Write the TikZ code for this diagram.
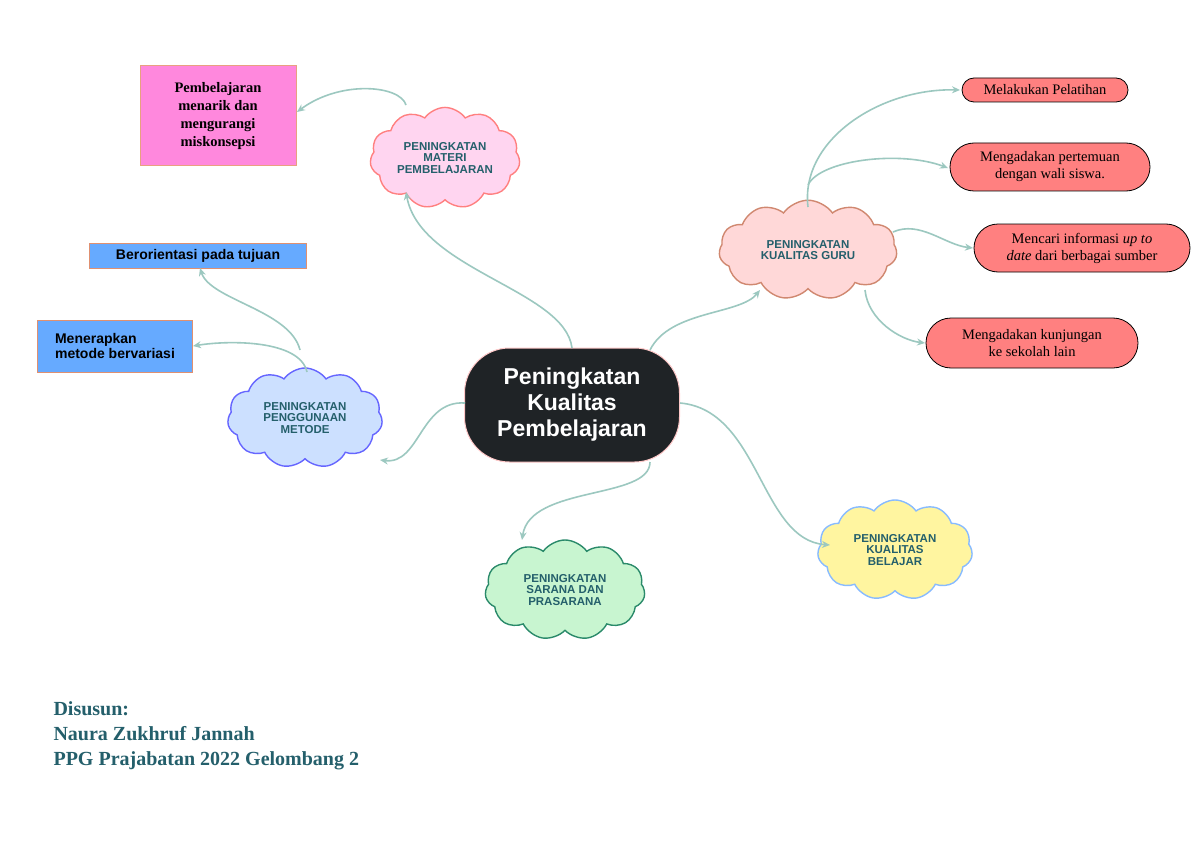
\documentclass[tikz,border=0pt]{standalone}
\usepackage{fontspec}
\setmainfont{Liberation Serif}
\newfontfamily\hv{Liberation Sans}
\usetikzlibrary{shapes.symbols,shapes.geometric,shapes.misc,arrows.meta}
\definecolor{teal}{HTML}{245F6B}
\definecolor{conn}{HTML}{9CC8C0}
\tikzset{
 cl/.style={cloud,cloud puffs=11,cloud puff arc=110,aspect=1.6,line width=1.4pt,inner sep=0pt,font=\hv\bfseries\fontsize{11.5}{11.5}\selectfont,text=teal,align=center},
 oval/.style={rounded rectangle,draw=black,fill=red!50!white,line width=0.8pt,font=\fontsize{14.5}{17}\selectfont,align=center,inner sep=2pt},
 bbox/.style={draw={rgb,255:red,224;green,144;blue,112},fill={rgb,255:red,102;green,170;blue,255},line width=1pt,font=\hv\bfseries\fontsize{14}{15}\selectfont,align=left},
 cn/.style={draw=conn,line width=1.6pt,-{Stealth[length=8pt,width=7pt]}}
}
\begin{document}
\begin{tikzpicture}[x=1pt,y=-1pt]
\useasboundingbox (0,0) rectangle (1200,848);
\fill[white] (0,0) rectangle (1200,848);
\node[draw={rgb,255:red,255;green,200;blue,200},fill={rgb,255:red,31;green,35;blue,38},rounded corners=45pt,minimum width=215pt,minimum height=114pt,line width=1pt,text=white,font=\hv\bfseries\fontsize{23}{26}\selectfont,align=center] (c) at (572,405) {Peningkatan\\Kualitas\\Pembelajaran};
\node[cl,fill={rgb,255:red,255;green,213;blue,240},draw={rgb,255:red,255;green,128;blue,128},minimum width=150pt,minimum height=100pt] (m) at (445,158) {PENINGKATAN\\MATERI\\PEMBELAJARAN};
\node[draw={rgb,255:red,232;green,160;blue,128},fill={rgb,255:red,255;green,136;blue,221},line width=1pt,minimum width=156pt,minimum height=100pt,font=\bfseries\fontsize{14.5}{18}\selectfont,align=center] (mp) at (218,116) {Pembelajaran\\menarik dan\\mengurangi\\miskonsepsi};
\node[cl,fill={rgb,255:red,255;green,216;blue,216},draw={rgb,255:red,208;green,136;blue,112},minimum width=178pt,minimum height=92pt] (g) at (808,250) {PENINGKATAN\\KUALITAS GURU};
\node[oval,minimum width=170pt,minimum height=24pt] (g1) at (1045,90) {Melakukan Pelatihan};
\node[oval,minimum width=204pt,minimum height=48pt] (g2) at (1050,167) {Mengadakan pertemuan\\dengan wali siswa.};
\node[oval,minimum width=220pt,minimum height=48pt] (g3) at (1082,248) {Mencari informasi \textit{up to}\\\textit{date} dari berbagai sumber};
\node[oval,minimum width=216pt,minimum height=50pt] (g4) at (1032,343) {Mengadakan kunjungan\\ke sekolah lain};
\node[cl,fill={rgb,255:red,204;green,224;blue,255},draw={rgb,255:red,102;green,102;blue,255},minimum width=155pt,minimum height=100pt] (p) at (305,418) {PENINGKATAN\\PENGGUNAAN\\METODE};
\node[bbox,minimum width=217pt,minimum height=25pt,inner sep=2pt] (p1) at (198,256) {Berorientasi pada tujuan};
\node[bbox,minimum width=155pt,minimum height=52pt,inner sep=2pt] (p2) at (115,346) {Menerapkan\\metode bervariasi};
\node[cl,fill={rgb,255:red,200;green,245;blue,208},draw={rgb,255:red,42;green,138;blue,106},minimum width=160pt,minimum height=100pt] (s) at (565,590) {PENINGKATAN\\SARANA DAN\\PRASARANA};
\node[cl,fill={rgb,255:red,255;green,245;blue,160},draw={rgb,255:red,136;green,187;blue,255},minimum width=155pt,minimum height=100pt] (b) at (895,550) {PENINGKATAN\\KUALITAS\\BELAJAR};
\node[anchor=north west,text=teal,font=\bfseries\fontsize{20}{25}\selectfont,align=left] (d) at (50,698) {Disusun:\\Naura Zukhruf Jannah\\PPG Prajabatan 2022 Gelombang 2};
\draw[cn] (572,348) .. controls (565,290) and (420,270) .. (406,192);
\draw[cn] (406,105) .. controls (400,85) and (340,80) .. (297,112);
\draw[cn] (650,350) .. controls (670,310) and (740,315) .. (760,290);
\draw[cn] (808,207) .. controls (800,140) and (880,88) .. (960,90);
\draw[cn] (808,185) .. controls (820,160) and (900,150) .. (948,168);
\draw[cn] (893,232) .. controls (920,220) and (945,245) .. (973,248);
\draw[cn] (865,290) .. controls (868,320) and (900,340) .. (925,343);
\draw[cn] (465,403) .. controls (420,400) and (420,465) .. (380,460);
\draw[cn] (307,372) .. controls (300,340) and (230,340) .. (193,346);
\draw[cn] (300,350) .. controls (290,310) and (210,300) .. (200,268);
\draw[cn] (650,462) .. controls (650,500) and (530,485) .. (522,540);
\draw[cn] (680,403) .. controls (760,410) and (760,540) .. (830,545);
\end{tikzpicture}
\end{document}
